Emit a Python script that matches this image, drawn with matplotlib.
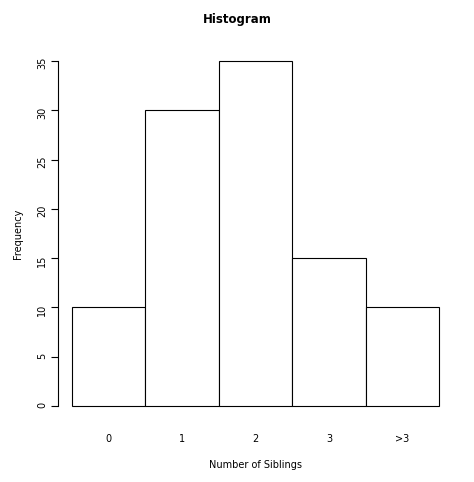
import matplotlib
matplotlib.use("Agg")
import matplotlib.pyplot as plt

categories = ["0", "1", "2", "3", ">3"]
freq = [10, 30, 35, 15, 10]
yticks = [0, 5, 10, 15, 20, 25, 30, 35]

fig = plt.figure(figsize=(4.74, 4.82), dpi=100)
ax = fig.add_axes([72 / 474, 76 / 482, 367 / 474, 345 / 482])

pos = list(range(len(categories)))
ax.bar([p + 0.5 for p in pos], freq, width=1.0, color="white",
       edgecolor="black", linewidth=0.8, clip_on=False)

ax.set_xlim(0, 5)
ax.set_ylim(0, 35)
ax.set_yticks(yticks)
ax.set_xticks([p + 0.5 for p in pos])
ax.set_xticklabels(categories)
ax.tick_params(axis="x", length=0, pad=20, labelsize=7)
ax.tick_params(axis="y", length=5, width=0.8, pad=3, labelsize=7,
               labelrotation=90)
for lab in ax.get_yticklabels():
    lab.set_va("center")

for s in ["top", "right", "bottom"]:
    ax.spines[s].set_visible(False)
ax.spines["left"].set_position(("outward", 10))
ax.spines["left"].set_linewidth(0.8)

ax.set_xlabel("Number of Siblings", fontsize=7, labelpad=12)
ax.set_ylabel("Frequency", fontsize=7, labelpad=10)
fig.text(0.5, 1 - 20 / 482, "Histogram", ha="center", va="center",
         fontsize=8.5, fontweight="bold")

fig.savefig("out.png", dpi=100)
